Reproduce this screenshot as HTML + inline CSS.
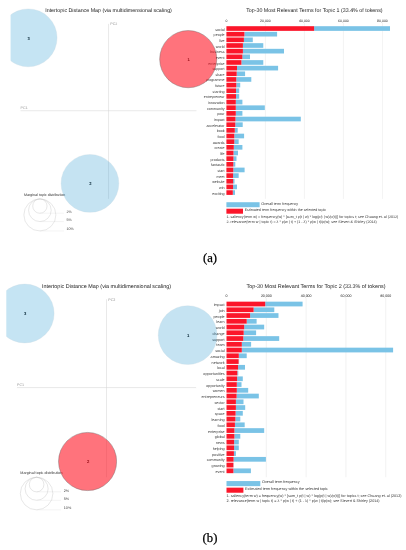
<!DOCTYPE html>
<html><head><meta charset="utf-8"><title>Figure</title>
<style>
html,body{margin:0;padding:0;background:#fff;}
body{width:406px;height:550px;overflow:hidden;position:relative;font-family:"Liberation Sans",sans-serif;}
svg{position:absolute;left:0;top:0;font-family:"Liberation Sans",sans-serif;text-rendering:geometricPrecision;}
.cap{position:absolute;font-family:"Liberation Serif",serif;font-size:12.7px;color:#000;-webkit-text-stroke:0.25px #000;width:40px;text-align:center;line-height:14px;}
</style></head><body>
<svg width="406" height="550" viewBox="0 0 406 550">
<defs><clipPath id="ca"><rect x="10.6" y="0" width="400" height="275"/></clipPath>
<clipPath id="cb"><rect x="6.3" y="275" width="400" height="275"/></clipPath></defs>
<g clip-path="url(#ca)">
<g transform="translate(10.6,2.575) scale(0.332,0.33274)">
<line x1="30" x2="560" y1="325" y2="325" stroke="#d4d4d4" stroke-width="1.5"/>
<line x1="295" x2="295" y1="64" y2="590" stroke="#d4d4d4" stroke-width="1.5"/>
<text x="30" y="320" font-size="11" fill="#9a9a9a">PC1</text>
<text x="300" y="68.5" font-size="11" fill="#9a9a9a">PC2</text>
<text x="295" y="29.8" font-size="16" text-anchor="middle" fill="#222">Intertopic Distance Map (via multidimensional scaling)</text>
<circle cx="88.2" cy="611.6" r="21.6" fill="none" stroke="#c4c4c4" stroke-width="1.2"/>
<line x1="88.2" x2="160.5" y1="633.1" y2="633.1" stroke="#e2e2e2" stroke-width="1.2"/>
<text x="168.5" y="632.7" font-size="11" fill="#444">2%</text>
<circle cx="88.2" cy="624.1" r="34.1" fill="none" stroke="#c4c4c4" stroke-width="1.2"/>
<line x1="88.2" x2="160.5" y1="658.2" y2="658.2" stroke="#e2e2e2" stroke-width="1.2"/>
<text x="168.5" y="657.2" font-size="11" fill="#444">5%</text>
<circle cx="88.2" cy="638.2" r="48.2" fill="none" stroke="#c4c4c4" stroke-width="1.2"/>
<line x1="88.2" x2="160.5" y1="686.4" y2="686.4" stroke="#e2e2e2" stroke-width="1.2"/>
<text x="168.5" y="684.4" font-size="11" fill="#444">10%</text>
<text x="40" y="580.5" font-size="11" fill="#333">Marginal topic distribution</text>
<text x="536.5" y="175.5" font-size="12.5" text-anchor="middle" font-weight="bold" fill="#000">1</text>
<text x="240.5" y="549.0" font-size="12.5" text-anchor="middle" font-weight="bold" fill="#000">2</text>
<text x="54.5" y="111.5" font-size="12.5" text-anchor="middle" font-weight="bold" fill="#000">3</text>
<text x="915" y="29.8" font-size="16" text-anchor="middle" fill="#222">Top-30 Most Relevant Terms for Topic 1 (33.4% of tokens)</text>
<text x="650.0" y="57.5" font-size="10.5" text-anchor="middle" fill="#111">0</text>
<line x1="767.5" x2="767.5" y1="60" y2="590" stroke="#e6e6e6" stroke-width="1.5"/>
<text x="767.5" y="57.5" font-size="10.5" text-anchor="middle" fill="#111">20,000</text>
<line x1="885.0" x2="885.0" y1="60" y2="590" stroke="#e6e6e6" stroke-width="1.5"/>
<text x="885.0" y="57.5" font-size="10.5" text-anchor="middle" fill="#111">40,000</text>
<line x1="1002.5" x2="1002.5" y1="60" y2="590" stroke="#e6e6e6" stroke-width="1.5"/>
<text x="1002.5" y="57.5" font-size="10.5" text-anchor="middle" fill="#111">60,000</text>
<line x1="1120.0" x2="1120.0" y1="60" y2="590" stroke="#e6e6e6" stroke-width="1.5"/>
<text x="1120.0" y="57.5" font-size="10.5" text-anchor="middle" fill="#111">80,000</text>
<rect x="914.2" y="71" width="228.6" height="14" fill="#7ac3e6"/>
<rect x="650" y="71" width="264.2" height="14" fill="#fb162a"/>
<text x="644.5" y="84.2" font-size="11" text-anchor="end" fill="#383838">social</text>
<rect x="704.2" y="88" width="98.5" height="14" fill="#7ac3e6"/>
<rect x="650" y="88" width="54.2" height="14" fill="#fb162a"/>
<text x="644.5" y="101.2" font-size="11" text-anchor="end" fill="#383838">people</text>
<rect x="702.7" y="105" width="26.8" height="14" fill="#7ac3e6"/>
<rect x="650" y="105" width="52.7" height="14" fill="#fb162a"/>
<text x="644.5" y="118.2" font-size="11" text-anchor="end" fill="#383838">live</text>
<rect x="699.7" y="122" width="61.4" height="14" fill="#7ac3e6"/>
<rect x="650" y="122" width="49.7" height="14" fill="#fb162a"/>
<text x="644.5" y="135.2" font-size="11" text-anchor="end" fill="#383838">world</text>
<rect x="699.7" y="139" width="123.8" height="14" fill="#7ac3e6"/>
<rect x="650" y="139" width="49.7" height="14" fill="#fb162a"/>
<text x="644.5" y="152.2" font-size="11" text-anchor="end" fill="#383838">business</text>
<rect x="698.2" y="156" width="22.9" height="14" fill="#7ac3e6"/>
<rect x="650" y="156" width="48.2" height="14" fill="#fb162a"/>
<text x="644.5" y="169.2" font-size="11" text-anchor="end" fill="#383838">event</text>
<rect x="695.2" y="173" width="65.9" height="14" fill="#7ac3e6"/>
<rect x="650" y="173" width="45.2" height="14" fill="#fb162a"/>
<text x="644.5" y="186.2" font-size="11" text-anchor="end" fill="#383838">enterprise</text>
<rect x="681.9" y="190" width="123.8" height="14" fill="#7ac3e6"/>
<rect x="650" y="190" width="31.9" height="14" fill="#fb162a"/>
<text x="644.5" y="203.2" font-size="11" text-anchor="end" fill="#383838">support</text>
<rect x="681.0" y="207" width="25.3" height="14" fill="#7ac3e6"/>
<rect x="650" y="207" width="31.0" height="14" fill="#fb162a"/>
<text x="644.5" y="220.2" font-size="11" text-anchor="end" fill="#383838">share</text>
<rect x="679.8" y="224" width="45.2" height="14" fill="#7ac3e6"/>
<rect x="650" y="224" width="29.8" height="14" fill="#fb162a"/>
<text x="644.5" y="237.2" font-size="11" text-anchor="end" fill="#383838">programme</text>
<rect x="679.8" y="241" width="11.8" height="14" fill="#7ac3e6"/>
<rect x="650" y="241" width="29.8" height="14" fill="#fb162a"/>
<text x="644.5" y="254.2" font-size="11" text-anchor="end" fill="#383838">future</text>
<rect x="678.9" y="258" width="9.7" height="14" fill="#7ac3e6"/>
<rect x="650" y="258" width="28.9" height="14" fill="#fb162a"/>
<text x="644.5" y="271.2" font-size="11" text-anchor="end" fill="#383838">starting</text>
<rect x="678.9" y="275" width="9.7" height="14" fill="#7ac3e6"/>
<rect x="650" y="275" width="28.9" height="14" fill="#fb162a"/>
<text x="644.5" y="288.2" font-size="11" text-anchor="end" fill="#383838">entrepreneur</text>
<rect x="678.3" y="292" width="19.9" height="14" fill="#7ac3e6"/>
<rect x="650" y="292" width="28.3" height="14" fill="#fb162a"/>
<text x="644.5" y="305.2" font-size="11" text-anchor="end" fill="#383838">innovation</text>
<rect x="678.3" y="309" width="87.4" height="14" fill="#7ac3e6"/>
<rect x="650" y="309" width="28.3" height="14" fill="#fb162a"/>
<text x="644.5" y="322.2" font-size="11" text-anchor="end" fill="#383838">community</text>
<rect x="678.3" y="326" width="19.9" height="14" fill="#7ac3e6"/>
<rect x="650" y="326" width="28.3" height="14" fill="#fb162a"/>
<text x="644.5" y="339.2" font-size="11" text-anchor="end" fill="#383838">pour</text>
<rect x="677.4" y="343" width="196.7" height="14" fill="#7ac3e6"/>
<rect x="650" y="343" width="27.4" height="14" fill="#fb162a"/>
<text x="644.5" y="356.2" font-size="11" text-anchor="end" fill="#383838">impact</text>
<rect x="676.8" y="360" width="22.3" height="14" fill="#7ac3e6"/>
<rect x="650" y="360" width="26.8" height="14" fill="#fb162a"/>
<text x="644.5" y="373.2" font-size="11" text-anchor="end" fill="#383838">accelerator</text>
<rect x="675.3" y="377" width="8.7" height="14" fill="#7ac3e6"/>
<rect x="650" y="377" width="25.3" height="14" fill="#fb162a"/>
<text x="644.5" y="390.2" font-size="11" text-anchor="end" fill="#383838">book</text>
<rect x="673.8" y="394" width="29.5" height="14" fill="#7ac3e6"/>
<rect x="650" y="394" width="23.8" height="14" fill="#fb162a"/>
<text x="644.5" y="407.2" font-size="11" text-anchor="end" fill="#383838">food</text>
<rect x="673.8" y="411" width="13.2" height="14" fill="#7ac3e6"/>
<rect x="650" y="411" width="23.8" height="14" fill="#fb162a"/>
<text x="644.5" y="424.2" font-size="11" text-anchor="end" fill="#383838">awards</text>
<rect x="672.3" y="428" width="25.9" height="14" fill="#7ac3e6"/>
<rect x="650" y="428" width="22.3" height="14" fill="#fb162a"/>
<text x="644.5" y="441.2" font-size="11" text-anchor="end" fill="#383838">create</text>
<rect x="671.4" y="445" width="13.5" height="14" fill="#7ac3e6"/>
<rect x="650" y="445" width="21.4" height="14" fill="#fb162a"/>
<text x="644.5" y="458.2" font-size="11" text-anchor="end" fill="#383838">life</text>
<rect x="671.4" y="462" width="9.0" height="14" fill="#7ac3e6"/>
<rect x="650" y="462" width="21.4" height="14" fill="#fb162a"/>
<text x="644.5" y="475.2" font-size="11" text-anchor="end" fill="#383838">products</text>
<rect x="670.8" y="479" width="6.0" height="14" fill="#7ac3e6"/>
<rect x="650" y="479" width="20.8" height="14" fill="#fb162a"/>
<text x="644.5" y="492.2" font-size="11" text-anchor="end" fill="#383838">fantastic</text>
<rect x="670.8" y="496" width="34.0" height="14" fill="#7ac3e6"/>
<rect x="650" y="496" width="20.8" height="14" fill="#fb162a"/>
<text x="644.5" y="509.2" font-size="11" text-anchor="end" fill="#383838">start</text>
<rect x="670.2" y="513" width="16.8" height="14" fill="#7ac3e6"/>
<rect x="650" y="513" width="20.2" height="14" fill="#fb162a"/>
<text x="644.5" y="526.2" font-size="11" text-anchor="end" fill="#383838">meet</text>
<rect x="670.2" y="530" width="4.2" height="14" fill="#7ac3e6"/>
<rect x="650" y="530" width="20.2" height="14" fill="#fb162a"/>
<text x="644.5" y="543.2" font-size="11" text-anchor="end" fill="#383838">website</text>
<rect x="670.2" y="547" width="11.7" height="14" fill="#7ac3e6"/>
<rect x="650" y="547" width="20.2" height="14" fill="#fb162a"/>
<text x="644.5" y="560.2" font-size="11" text-anchor="end" fill="#383838">win</text>
<rect x="669.3" y="564" width="6.6" height="14" fill="#7ac3e6"/>
<rect x="650" y="564" width="19.3" height="14" fill="#fb162a"/>
<text x="644.5" y="577.2" font-size="11" text-anchor="end" fill="#383838">exciting</text>
<g transform="translate(0,0)">
<rect x="650" y="600" width="100" height="15" fill="#7ac3e6"/>
<text x="755" y="607" font-size="11" fill="#333">Overall term frequency</text>
<rect x="650" y="619.5" width="50" height="15" fill="#fb162a"/>
<text x="705" y="627" font-size="11" fill="#333">Estimated term frequency within the selected topic</text>
<text x="650" y="648" font-size="11" fill="#333">1. saliency(term w) = frequency(w) * [sum_t p(t | w) * log(p(t | w)/p(t))] for topics t; see Chuang et. al (2012)</text>
<text x="650" y="663" font-size="11" fill="#333">2. relevance(term w | topic t) = λ * p(w | t) + (1 - λ) * p(w | t)/p(w); see Sievert &amp; Shirley (2014)</text>
</g>
<circle cx="535" cy="170" r="86" fill="#ff1726" stroke="#000" stroke-width="1.2" opacity="0.6"/>
<circle cx="239" cy="543.5" r="87" fill="#1b93cf" stroke="#1b5f80" stroke-width="0.8" opacity="0.25"/>
<circle cx="53" cy="106" r="87" fill="#1b93cf" stroke="#1b5f80" stroke-width="0.8" opacity="0.25"/>
</g>
</g>
<g clip-path="url(#cb)">
<g transform="translate(6.8,277.64) scale(0.338,0.3383)">
<line x1="30" x2="560" y1="325" y2="325" stroke="#d4d4d4" stroke-width="1.5"/>
<line x1="295" x2="295" y1="64" y2="590" stroke="#d4d4d4" stroke-width="1.5"/>
<text x="30" y="320" font-size="11" fill="#9a9a9a">PC1</text>
<text x="300" y="68.5" font-size="11" fill="#9a9a9a">PC2</text>
<text x="295" y="30" font-size="16" text-anchor="middle" fill="#222">Intertopic Distance Map (via multidimensional scaling)</text>
<circle cx="88.2" cy="611.6" r="21.6" fill="none" stroke="#c4c4c4" stroke-width="1.2"/>
<line x1="88.2" x2="160.5" y1="633.1" y2="633.1" stroke="#e2e2e2" stroke-width="1.2"/>
<text x="168.5" y="632.7" font-size="11" fill="#444">2%</text>
<circle cx="88.2" cy="624.1" r="34.1" fill="none" stroke="#c4c4c4" stroke-width="1.2"/>
<line x1="88.2" x2="160.5" y1="658.2" y2="658.2" stroke="#e2e2e2" stroke-width="1.2"/>
<text x="168.5" y="657.2" font-size="11" fill="#444">5%</text>
<circle cx="88.2" cy="638.2" r="48.2" fill="none" stroke="#c4c4c4" stroke-width="1.2"/>
<line x1="88.2" x2="160.5" y1="686.4" y2="686.4" stroke="#e2e2e2" stroke-width="1.2"/>
<text x="168.5" y="684.4" font-size="11" fill="#444">10%</text>
<text x="40" y="580.5" font-size="11" fill="#333">Marginal topic distribution</text>
<text x="536.5" y="175.5" font-size="12.5" text-anchor="middle" font-weight="bold" fill="#000">1</text>
<text x="240.5" y="549.0" font-size="12.5" text-anchor="middle" font-weight="bold" fill="#000">2</text>
<text x="54.5" y="111.5" font-size="12.5" text-anchor="middle" font-weight="bold" fill="#000">3</text>
<text x="915" y="30" font-size="16" text-anchor="middle" fill="#222">Top-30 Most Relevant Terms for Topic 2 (33.3% of tokens)</text>
<text x="650.0" y="56" font-size="10.5" text-anchor="middle" fill="#111">0</text>
<line x1="767.8" x2="767.8" y1="60" y2="590" stroke="#e6e6e6" stroke-width="1.5"/>
<text x="767.8" y="56" font-size="10.5" text-anchor="middle" fill="#111">20,000</text>
<line x1="885.6" x2="885.6" y1="60" y2="590" stroke="#e6e6e6" stroke-width="1.5"/>
<text x="885.6" y="56" font-size="10.5" text-anchor="middle" fill="#111">40,000</text>
<line x1="1003.4" x2="1003.4" y1="60" y2="590" stroke="#e6e6e6" stroke-width="1.5"/>
<text x="1003.4" y="56" font-size="10.5" text-anchor="middle" fill="#111">60,000</text>
<line x1="1121.2" x2="1121.2" y1="60" y2="590" stroke="#e6e6e6" stroke-width="1.5"/>
<text x="1121.2" y="56" font-size="10.5" text-anchor="middle" fill="#111">80,000</text>
<rect x="764.5" y="71" width="110.6" height="14" fill="#7ac3e6"/>
<rect x="650" y="71" width="114.5" height="14" fill="#fb162a"/>
<text x="644.5" y="84.2" font-size="11" text-anchor="end" fill="#383838">impact</text>
<rect x="730.2" y="88" width="61.2" height="14" fill="#7ac3e6"/>
<rect x="650" y="88" width="80.2" height="14" fill="#fb162a"/>
<text x="644.5" y="101.2" font-size="11" text-anchor="end" fill="#383838">join</text>
<rect x="719.8" y="105" width="84.0" height="14" fill="#7ac3e6"/>
<rect x="650" y="105" width="69.8" height="14" fill="#fb162a"/>
<text x="644.5" y="118.2" font-size="11" text-anchor="end" fill="#383838">people</text>
<rect x="709.8" y="122" width="29.3" height="14" fill="#7ac3e6"/>
<rect x="650" y="122" width="59.8" height="14" fill="#fb162a"/>
<text x="644.5" y="135.2" font-size="11" text-anchor="end" fill="#383838">learn</text>
<rect x="702.4" y="139" width="59.1" height="14" fill="#7ac3e6"/>
<rect x="650" y="139" width="52.4" height="14" fill="#fb162a"/>
<text x="644.5" y="152.2" font-size="11" text-anchor="end" fill="#383838">world</text>
<rect x="700.9" y="156" width="36.7" height="14" fill="#7ac3e6"/>
<rect x="650" y="156" width="50.9" height="14" fill="#fb162a"/>
<text x="644.5" y="169.2" font-size="11" text-anchor="end" fill="#383838">change</text>
<rect x="699.7" y="173" width="106.2" height="14" fill="#7ac3e6"/>
<rect x="650" y="173" width="49.7" height="14" fill="#fb162a"/>
<text x="644.5" y="186.2" font-size="11" text-anchor="end" fill="#383838">support</text>
<rect x="695.3" y="190" width="27.5" height="14" fill="#7ac3e6"/>
<rect x="650" y="190" width="45.3" height="14" fill="#fb162a"/>
<text x="644.5" y="203.2" font-size="11" text-anchor="end" fill="#383838">team</text>
<rect x="695.3" y="207" width="447.6" height="14" fill="#7ac3e6"/>
<rect x="650" y="207" width="45.3" height="14" fill="#fb162a"/>
<text x="644.5" y="220.2" font-size="11" text-anchor="end" fill="#383838">social</text>
<rect x="686.4" y="224" width="23.4" height="14" fill="#7ac3e6"/>
<rect x="650" y="224" width="36.4" height="14" fill="#fb162a"/>
<text x="644.5" y="237.2" font-size="11" text-anchor="end" fill="#383838">amazing</text>
<rect x="685.8" y="241" width="1.5" height="14" fill="#7ac3e6"/>
<rect x="650" y="241" width="35.8" height="14" fill="#fb162a"/>
<text x="644.5" y="254.2" font-size="11" text-anchor="end" fill="#383838">network</text>
<rect x="684.3" y="258" width="20.4" height="14" fill="#7ac3e6"/>
<rect x="650" y="258" width="34.3" height="14" fill="#fb162a"/>
<text x="644.5" y="271.2" font-size="11" text-anchor="end" fill="#383838">local</text>
<rect x="682.0" y="275" width="2.9" height="14" fill="#7ac3e6"/>
<rect x="650" y="275" width="32.0" height="14" fill="#fb162a"/>
<text x="644.5" y="288.2" font-size="11" text-anchor="end" fill="#383838">opportunities</text>
<rect x="681.4" y="292" width="16.8" height="14" fill="#7ac3e6"/>
<rect x="650" y="292" width="31.4" height="14" fill="#fb162a"/>
<text x="644.5" y="305.2" font-size="11" text-anchor="end" fill="#383838">scale</text>
<rect x="680.5" y="309" width="13.9" height="14" fill="#7ac3e6"/>
<rect x="650" y="309" width="30.5" height="14" fill="#fb162a"/>
<text x="644.5" y="322.2" font-size="11" text-anchor="end" fill="#383838">opportunity</text>
<rect x="680.5" y="326" width="33.7" height="14" fill="#7ac3e6"/>
<rect x="650" y="326" width="30.5" height="14" fill="#fb162a"/>
<text x="644.5" y="339.2" font-size="11" text-anchor="end" fill="#383838">women</text>
<rect x="679.9" y="343" width="65.7" height="14" fill="#7ac3e6"/>
<rect x="650" y="343" width="29.9" height="14" fill="#fb162a"/>
<text x="644.5" y="356.2" font-size="11" text-anchor="end" fill="#383838">entrepreneurs</text>
<rect x="677.8" y="360" width="22.5" height="14" fill="#7ac3e6"/>
<rect x="650" y="360" width="27.8" height="14" fill="#fb162a"/>
<text x="644.5" y="373.2" font-size="11" text-anchor="end" fill="#383838">sector</text>
<rect x="677.8" y="377" width="27.5" height="14" fill="#7ac3e6"/>
<rect x="650" y="377" width="27.8" height="14" fill="#fb162a"/>
<text x="644.5" y="390.2" font-size="11" text-anchor="end" fill="#383838">start</text>
<rect x="676.9" y="394" width="21.3" height="14" fill="#7ac3e6"/>
<rect x="650" y="394" width="26.9" height="14" fill="#fb162a"/>
<text x="644.5" y="407.2" font-size="11" text-anchor="end" fill="#383838">space</text>
<rect x="676.3" y="411" width="14.5" height="14" fill="#7ac3e6"/>
<rect x="650" y="411" width="26.3" height="14" fill="#fb162a"/>
<text x="644.5" y="424.2" font-size="11" text-anchor="end" fill="#383838">learning</text>
<rect x="674.9" y="428" width="28.9" height="14" fill="#7ac3e6"/>
<rect x="650" y="428" width="24.9" height="14" fill="#fb162a"/>
<text x="644.5" y="441.2" font-size="11" text-anchor="end" fill="#383838">food</text>
<rect x="673.4" y="445" width="88.1" height="14" fill="#7ac3e6"/>
<rect x="650" y="445" width="23.4" height="14" fill="#fb162a"/>
<text x="644.5" y="458.2" font-size="11" text-anchor="end" fill="#383838">enterprise</text>
<rect x="673.4" y="462" width="17.4" height="14" fill="#7ac3e6"/>
<rect x="650" y="462" width="23.4" height="14" fill="#fb162a"/>
<text x="644.5" y="475.2" font-size="11" text-anchor="end" fill="#383838">global</text>
<rect x="672.5" y="479" width="13.9" height="14" fill="#7ac3e6"/>
<rect x="650" y="479" width="22.5" height="14" fill="#fb162a"/>
<text x="644.5" y="492.2" font-size="11" text-anchor="end" fill="#383838">news</text>
<rect x="672.5" y="496" width="13.9" height="14" fill="#7ac3e6"/>
<rect x="650" y="496" width="22.5" height="14" fill="#fb162a"/>
<text x="644.5" y="509.2" font-size="11" text-anchor="end" fill="#383838">helping</text>
<rect x="671.9" y="513" width="5.9" height="14" fill="#7ac3e6"/>
<rect x="650" y="513" width="21.9" height="14" fill="#fb162a"/>
<text x="644.5" y="526.2" font-size="11" text-anchor="end" fill="#383838">positive</text>
<rect x="671.0" y="530" width="95.6" height="14" fill="#7ac3e6"/>
<rect x="650" y="530" width="21.0" height="14" fill="#fb162a"/>
<text x="644.5" y="543.2" font-size="11" text-anchor="end" fill="#383838">community</text>
<rect x="670.4" y="547" width="0.6" height="14" fill="#7ac3e6"/>
<rect x="650" y="547" width="20.4" height="14" fill="#fb162a"/>
<text x="644.5" y="560.2" font-size="11" text-anchor="end" fill="#383838">growing</text>
<rect x="670.4" y="564" width="51.8" height="14" fill="#7ac3e6"/>
<rect x="650" y="564" width="20.4" height="14" fill="#fb162a"/>
<text x="644.5" y="577.2" font-size="11" text-anchor="end" fill="#383838">event</text>
<g transform="translate(0,1.3)">
<rect x="650" y="600" width="100" height="15" fill="#7ac3e6"/>
<text x="755" y="607" font-size="11" fill="#333">Overall term frequency</text>
<rect x="650" y="619.5" width="50" height="15" fill="#fb162a"/>
<text x="705" y="627" font-size="11" fill="#333">Estimated term frequency within the selected topic</text>
<text x="650" y="648" font-size="11" fill="#333">1. saliency(term w) = frequency(w) * [sum_t p(t | w) * log(p(t | w)/p(t))] for topics t; see Chuang et. al (2012)</text>
<text x="650" y="663" font-size="11" fill="#333">2. relevance(term w | topic t) = λ * p(w | t) + (1 - λ) * p(w | t)/p(w); see Sievert &amp; Shirley (2014)</text>
</g>
<circle cx="535" cy="170" r="87" fill="#1b93cf" stroke="#1b5f80" stroke-width="0.8" opacity="0.25"/>
<circle cx="239" cy="543.5" r="86" fill="#ff1726" stroke="#000" stroke-width="1.2" opacity="0.6"/>
<circle cx="53" cy="106" r="87" fill="#1b93cf" stroke="#1b5f80" stroke-width="0.8" opacity="0.25"/>
</g>
</g>
</svg>
<div class="cap" style="left:190px;top:251px;">(a)</div>
<div class="cap" style="left:190px;top:530.9px;">(b)</div>
</body></html>
